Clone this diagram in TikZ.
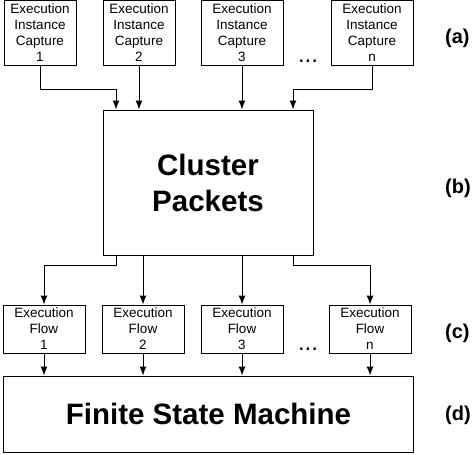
\documentclass[tikz,border=0pt]{standalone}
\usepackage{fontspec}
\setmainfont{Liberation Sans}
\usetikzlibrary{arrows.meta}
\begin{document}
\begin{tikzpicture}[x=1pt,y=-1pt,
    box/.style={draw,line width=1pt,align=center,inner sep=0pt,font=\fontsize{13.5}{16}\selectfont},
    capbox/.style={box,minimum height=65pt},
    flowbox/.style={box,minimum width=82pt,minimum height=48pt},
    bigbox/.style={box,font=\fontsize{29.5}{36}\selectfont\bfseries},
    flow/.style={-{Latex[length=9pt,width=7pt]},line width=1pt},
    dots/.style={font=\fontsize{24}{24}\selectfont,inner sep=0pt},
    tag/.style={anchor=west,inner sep=0pt,font=\fontsize{20}{24}\selectfont\bfseries}]
    \useasboundingbox (0,0) rectangle (474,455);
    % capture boxes (a)
    \node[capbox,minimum width=72pt] (cap1) at (40,33) {Execution\\Instance\\Capture\\1};
    \node[capbox,minimum width=72pt] (cap2) at (139,33) {Execution\\Instance\\Capture\\2};
    \node[capbox,minimum width=82pt] (cap3) at (242,33) {Execution\\Instance\\Capture\\3};
    \node[capbox,minimum width=82pt] (cap4) at (372,33) {Execution\\Instance\\Capture\\n};
    \node[dots] (dotsa) at (308,61) {...};
    % cluster (b)
    \node[bigbox,minimum width=210pt,minimum height=145pt] (pkt) at (208,182.5) {Cluster\\Packets};
    % flows (c)
    \node[flowbox] (exf1) at (44,329) {Execution\\Flow\\1};
    \node[flowbox] (exf2) at (143,329) {Execution\\Flow\\2};
    \node[flowbox] (exf3) at (242,329) {Execution\\Flow\\3};
    \node[flowbox] (exf4) at (370,329) {Execution\\Flow\\n};
    \node[dots] (dotsc) at (308,349) {...};
    % fsm (d)
    \node[bigbox,minimum width=410pt,minimum height=76pt] (fsm) at (208.5,414) {Finite State Machine};
    \node[tag] (la) at (445,38) {(a)};
    \node[tag] (lb) at (445,188) {(b)};
    \node[tag] (lc) at (445,333) {(c)};
    \node[tag] (ld) at (445,415) {(d)};
    % connectors
    \draw[flow] (cap1.south) -- ++(0,23) -| ([xshift=-92pt]pkt.north);
    \draw[flow] (cap2.south) -- (cap2.south |- pkt.north);
    \draw[flow] (cap3.south) -- (cap3.south |- pkt.north);
    \draw[flow] (cap4.south) -- ++(0,23) -| ([xshift=85pt]pkt.north);
    \draw[flow] ([xshift=-92pt]pkt.south) -- ++(0,10) -| (exf1.north);
    \draw[flow] (exf2.north |- pkt.south) -- (exf2.north);
    \draw[flow] (exf3.north |- pkt.south) -- (exf3.north);
    \draw[flow] ([xshift=85pt]pkt.south) -- ++(0,10) -| (exf4.north);
    \foreach \i in {1,...,4}
        \draw[flow] (exf\i.south) -- (exf\i.south |- fsm.north);
\end{tikzpicture}
\end{document}
